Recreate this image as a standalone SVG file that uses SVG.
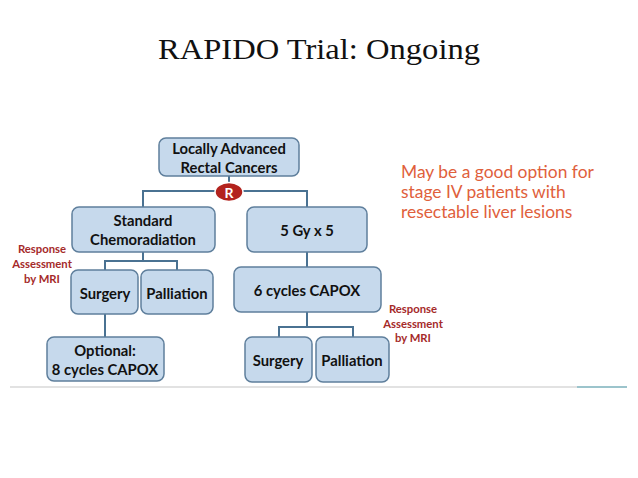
<svg xmlns="http://www.w3.org/2000/svg" width="638" height="478" viewBox="0 0 638 478">
<style>
.box{fill:#c6d9ec;stroke:#5f7f9c;stroke-width:1.5}
.lbl{font-family:Lato,"Liberation Sans",sans-serif;font-weight:bold;font-size:14.8px;fill:#111;text-anchor:middle;dominant-baseline:central}
.resp{font-family:Lato,"Liberation Sans",sans-serif;font-weight:bold;font-size:11.3px;fill:#a52a2a;text-anchor:middle}
.conn{fill:none;stroke:#4a7292;stroke-width:2}
</style>
<rect width="638" height="478" fill="#fff"/>
<text x="319" y="59" font-family="'Liberation Serif',serif" font-size="30" text-anchor="middle" textLength="322" lengthAdjust="spacingAndGlyphs" fill="#111">RAPIDO Trial: Ongoing</text>
<g id="connectors">
<path class="conn" d="M229 176V191M143 207V191H307V207"/>
<path class="conn" d="M143 252V261M105 270V261H177V270M105 314V337"/>
<path class="conn" d="M307 252V267M307 312V327M279 337V327H353V337"/>
</g>
<g id="n-top"><rect class="box" x="159" y="138" width="140" height="38" rx="7"/><text class="lbl" x="229" y="148">Locally Advanced</text><text class="lbl" x="229" y="167">Rectal Cancers</text></g>
<g id="n-R"><ellipse cx="229" cy="192" rx="14" ry="9.5" fill="#b3231e" stroke="#fff" stroke-width="1.5"/><text x="229" y="192" font-family="Lato,'Liberation Sans',sans-serif" font-weight="bold" font-size="14" fill="#fff" text-anchor="middle" dominant-baseline="central">R</text></g>
<g id="n-std"><rect class="box" x="72" y="207" width="143" height="45" rx="7"/><text class="lbl" x="143" y="220">Standard</text><text class="lbl" x="143" y="239">Chemoradiation</text></g>
<g id="n-5gy"><rect class="box" x="247" y="207" width="120" height="45" rx="7"/><text class="lbl" x="307" y="230">5 Gy x 5</text></g>
<g id="n-surg1"><rect class="box" x="71" y="270" width="67" height="44" rx="7"/><text class="lbl" x="105" y="293">Surgery</text></g>
<g id="n-pall1"><rect class="box" x="141" y="270" width="72" height="44" rx="7"/><text class="lbl" x="177" y="293">Palliation</text></g>
<g id="n-opt"><rect class="box" x="47" y="337" width="117" height="44" rx="7"/><text class="lbl" x="105" y="350">Optional:</text><text class="lbl" x="105" y="369">8 cycles CAPOX</text></g>
<g id="n-capox"><rect class="box" x="234" y="267" width="147" height="45" rx="7"/><text class="lbl" x="307" y="290">6 cycles CAPOX</text></g>
<g id="n-surg2"><rect class="box" x="245" y="337" width="67" height="45" rx="7"/><text class="lbl" x="278" y="360">Surgery</text></g>
<g id="n-pall2"><rect class="box" x="316" y="337" width="73" height="45" rx="7"/><text class="lbl" x="352" y="360">Palliation</text></g>
<g id="resp-left"><text class="resp" x="42" y="253">Response</text><text class="resp" x="42" y="268">Assessment</text><text class="resp" x="42" y="283">by MRI</text></g>
<g id="resp-right"><text class="resp" x="413" y="313">Response</text><text class="resp" x="413" y="328">Assessment</text><text class="resp" x="413" y="342">by MRI</text></g>
<g id="note" font-family="Lato,'Liberation Sans',sans-serif" font-size="17.4" fill="#e0603c"><text x="401" y="178">May be a good option for</text><text x="401" y="198">stage IV patients with</text><text x="401" y="218">resectable liver lesions</text></g>
<line x1="10" y1="387" x2="577" y2="387" stroke="#e2e2e2" stroke-width="2"/>
<line x1="577" y1="387" x2="627" y2="387" stroke="#9cc4cc" stroke-width="2"/>
</svg>
